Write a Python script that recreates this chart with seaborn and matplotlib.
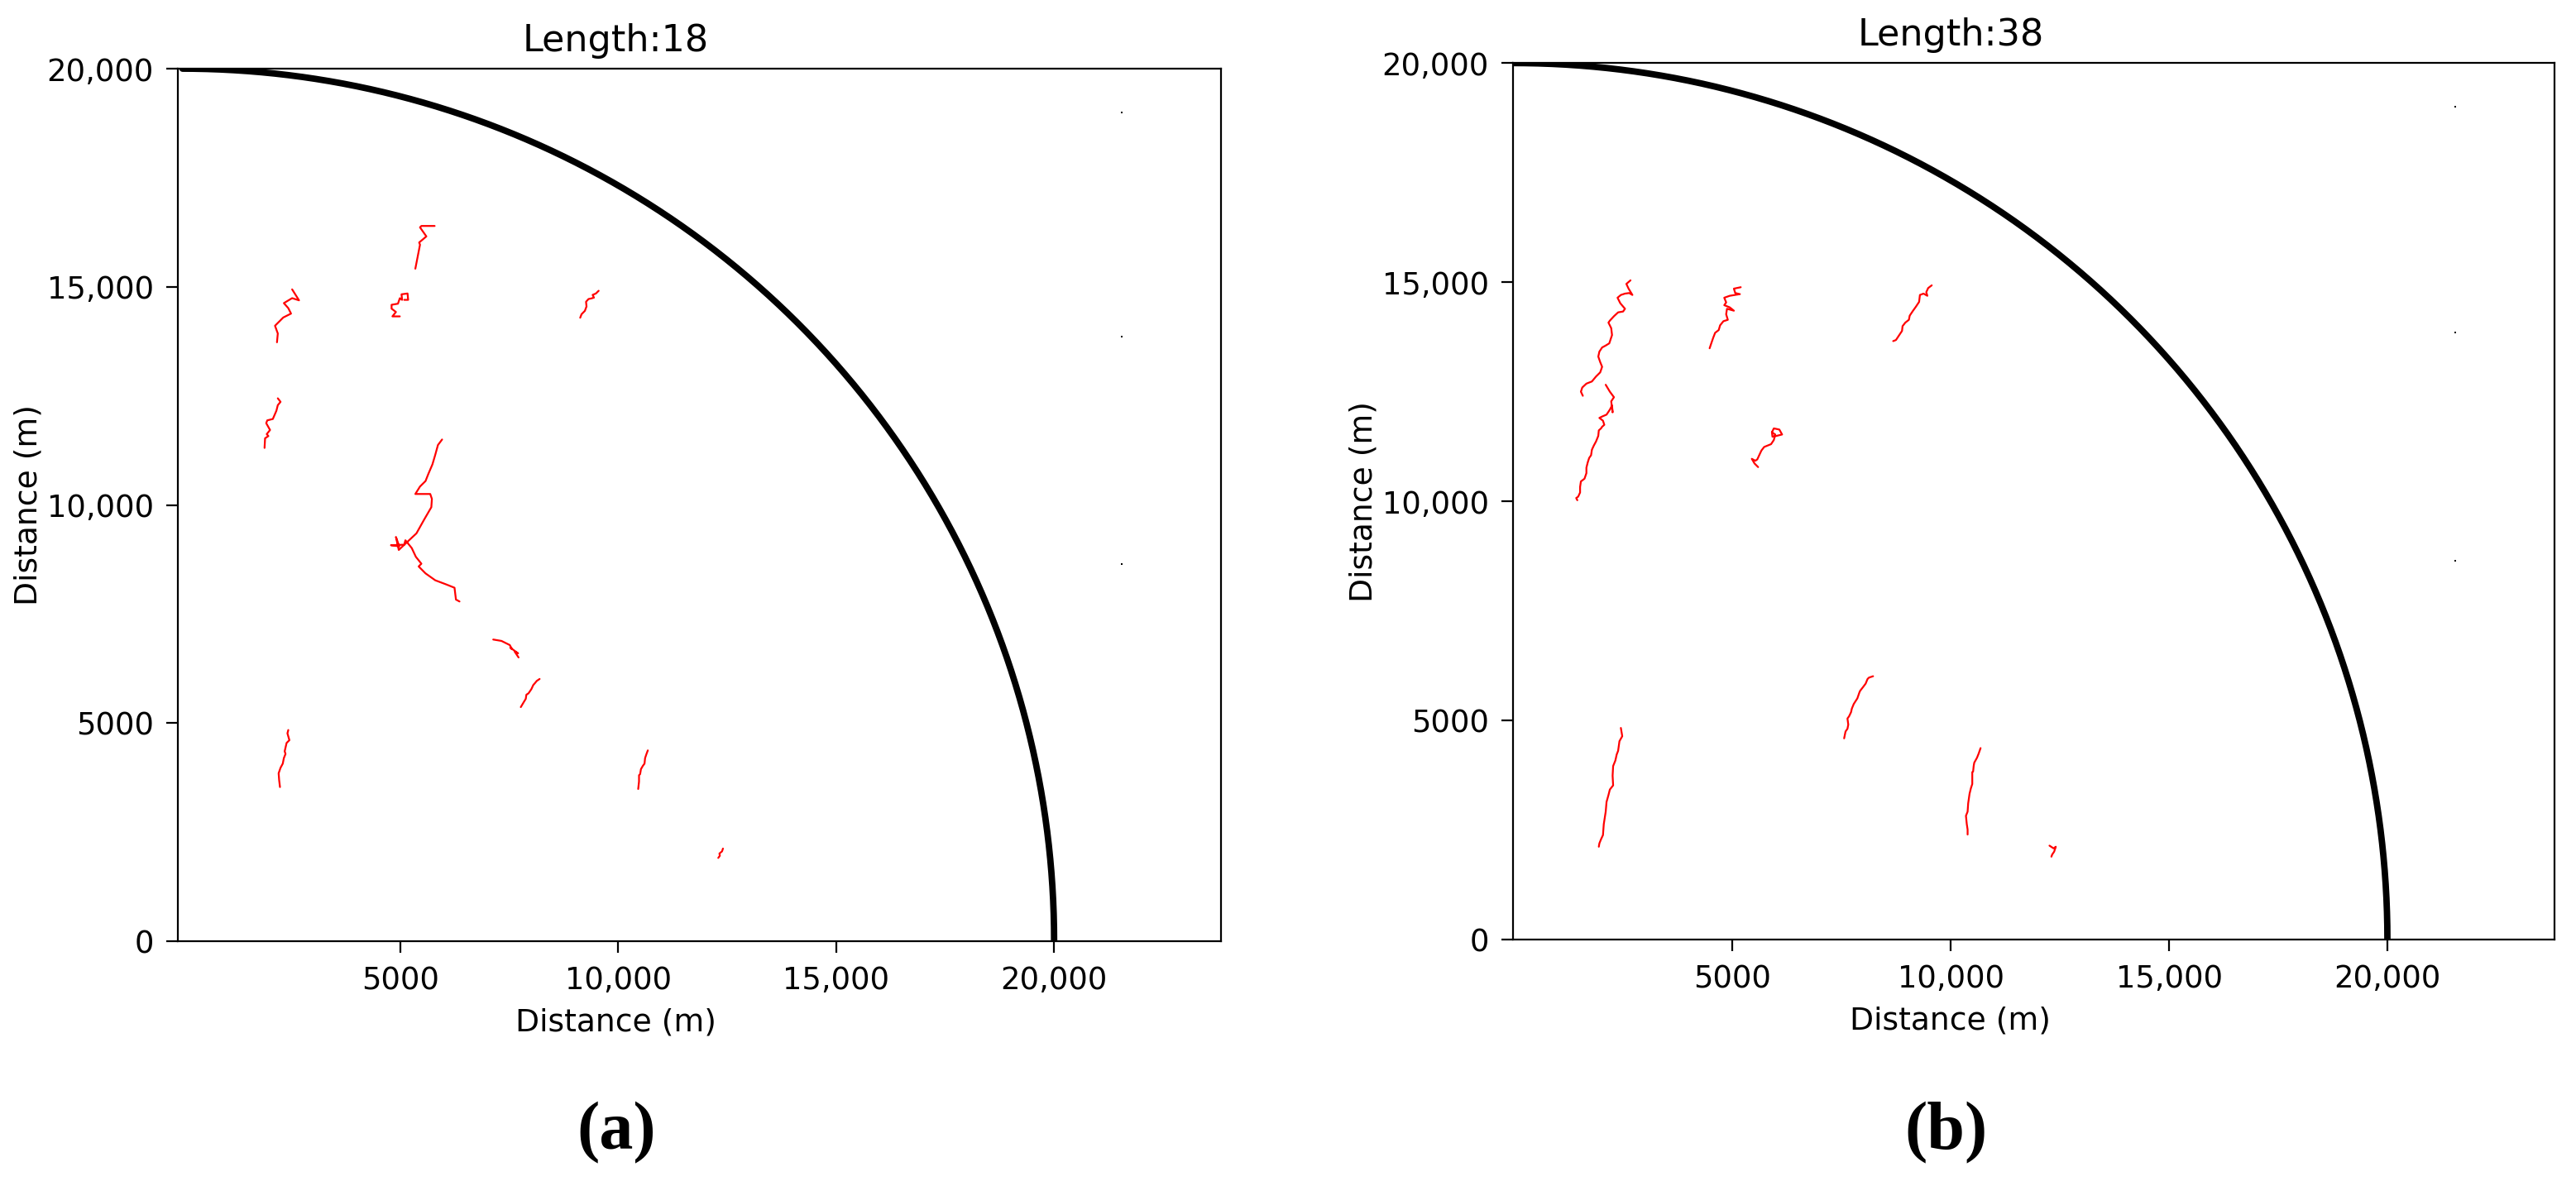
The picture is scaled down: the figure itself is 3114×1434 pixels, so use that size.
import numpy as np
import pandas as pd
import matplotlib.pyplot as plt
from matplotlib.ticker import FuncFormatter
import seaborn as sns

sns.set_style("ticks", {"axes.edgecolor": "black", "xtick.color": "black",
                        "ytick.color": "black", "axes.linewidth": 0.8,
                        "text.color": "black", "axes.labelcolor": "black"})
plt.rcParams["font.family"] = ["DejaVu Sans"]

# coverage boundary (radius in m) and the three small sensor marks
radius = 20000
mark_x = [21560, 21560, 21560]
mark_y = [19000, 13850, 8650]

# ---- panel (a): Length:18 ----
a1_x = [2167, 2186, 2122, 2312, 2490, 2426, 2325, 2515, 2673, 2515]
a1_y = [13728, 13930, 14107, 14297, 14386, 14512, 14626, 14740, 14690, 14941]
a2_x = [5342, 5449, 5430, 5595, 5449, 5481, 5785]
a2_y = [15415, 15965, 16016, 16155, 16363, 16395, 16395]
a3_x = [4986, 4816, 4897, 4797, 4797, 4943, 4986, 5038, 5025, 5163, 5177, 5087]
a3_y = [14322, 14322, 14423, 14499, 14588, 14613, 14738, 14701, 14828, 14847, 14701, 14701]
a4_x = [1882, 1894, 1970, 1932, 2008, 1920, 1945, 2072, 2154, 2186, 2249, 2186]
a4_y = [11307, 11528, 11579, 11623, 11718, 11875, 11939, 11970, 12160, 12287, 12363, 12444]
a5_x = [5956, 5861, 5799, 5734, 5639, 5576, 5449, 5342, 5684, 5722, 5709, 5544, 5367, 5163, 4962,
        4897, 4973, 4783, 5087, 5114, 5259, 5354, 5481, 5418, 5576, 5799, 6051, 6241, 6274, 6356]
a5_y = [11500, 11374, 11149, 10929, 10707, 10548, 10422, 10251, 10251, 10138, 9948, 9664, 9348, 9158, 8968,
        9266, 9051, 9077, 9089, 9190, 9013, 8811, 8653, 8590, 8431, 8273, 8178, 8102, 7831, 7787]
a6_x = [7129, 7319, 7510, 7559, 7520, 7700, 7620, 7711]
a6_y = [6915, 6883, 6788, 6693, 6730, 6598, 6640, 6504]
a7_x = [8194, 8129, 8092, 8048, 8004, 7939, 7890, 7876, 7826, 7762]
a7_y = [6011, 5967, 5922, 5872, 5777, 5682, 5650, 5556, 5474, 5366]
a8_x = [2427, 2407, 2452, 2388, 2344, 2363, 2325, 2300, 2249, 2205, 2217, 2236]
a8_y = [4841, 4765, 4608, 4545, 4355, 4292, 4197, 4071, 3976, 3849, 3692, 3533]
a9_x = [10677, 10646, 10614, 10601, 10563, 10519, 10500, 10475, 10475, 10456]
a9_y = [4374, 4292, 4197, 4071, 4020, 3944, 3830, 3805, 3660, 3489]
a10_x = [9125, 9156, 9232, 9270, 9259, 9316, 9378, 9441, 9410, 9486, 9549]
a10_y = [14291, 14372, 14448, 14549, 14657, 14720, 14733, 14752, 14815, 14847, 14909]
a11_x = [12293, 12330, 12320, 12380, 12401]
a11_y = [1909, 1960, 2010, 2060, 2124]

# ---- panel (b): Length:38 ----
b1_x = [2664, 2569, 2620, 2708, 2633, 2538, 2443, 2367, 2430, 2538, 2494, 2380, 2285, 2191, 2159, 2222,
        2241, 2203, 2178, 2096, 2014, 1951, 1926, 1970, 2014, 1970, 1875, 1780, 1654, 1559, 1528, 1572]
b1_y = [15043, 14961, 14853, 14709, 14753, 14740, 14709, 14646, 14520, 14394, 14331, 14312, 14224, 14123,
        14078, 13952, 13794, 13681, 13605, 13555, 13511, 13416, 13303, 13177, 13070, 12943, 12849, 12735,
        12686, 12597, 12502, 12408]
b2_x = [2096, 2191, 2285, 2222, 2254, 2241, 2191, 2115, 2014, 1951, 2033, 2064, 2014, 1989, 1938, 1926,
        1875, 1824, 1780, 1761, 1717, 1686, 1654, 1654, 1610, 1528, 1509, 1509, 1465, 1420, 1446]
b2_y = [12660, 12502, 12376, 12281, 12030, 12187, 12092, 11978, 11935, 11903, 11840, 11746, 11702, 11664,
        11619, 11494, 11367, 11273, 11178, 11052, 10989, 10894, 10768, 10643, 10516, 10454, 10327, 10201,
        10106, 10075, 10025]
b3_x = [5189, 5032, 5063, 5170, 4937, 4811, 4855, 4811, 4937, 5032, 4874, 4855, 4893, 4792, 4716, 4684,
        4602, 4558, 4514, 4476]
b3_y = [14886, 14853, 14753, 14728, 14690, 14646, 14539, 14476, 14426, 14350, 14394, 14268, 14142, 14110,
        14016, 13908, 13845, 13732, 13605, 13492]
b4_x = [5587, 5505, 5442, 5524, 5568, 5612, 5663, 5726, 5884, 5947, 5979, 5903, 5947, 6073, 6136, 6010,
        5915, 5903]
b4_y = [10781, 10863, 10970, 10926, 10957, 11052, 11160, 11241, 11305, 11400, 11525, 11576, 11664, 11638,
        11525, 11494, 11475, 11576]
b5_x = [9564, 9482, 9438, 9463, 9375, 9293, 9274, 9198, 9135, 9059, 9040, 8958, 8895, 8883, 8820, 8744, 8680]
b5_y = [14929, 14867, 14772, 14690, 14740, 14709, 14551, 14437, 14350, 14237, 14142, 14078, 13997, 13889,
        13795, 13681, 13656]
b6_x = [2443, 2475, 2411, 2380, 2348, 2317, 2266, 2254, 2266, 2191, 2159, 2115, 2096, 2052, 2033, 1989,
        1951, 1938]
b6_y = [4829, 4640, 4527, 4306, 4224, 4085, 3959, 3739, 3518, 3423, 3297, 3140, 2919, 2635, 2383, 2289,
        2194, 2118]
b7_x = [8220, 8125, 8093, 8049, 7986, 7922, 7904, 7860, 7778, 7734, 7715, 7670, 7633, 7652, 7633, 7589, 7557]
b7_y = [6009, 5977, 5945, 5839, 5756, 5674, 5631, 5504, 5377, 5271, 5188, 5094, 5044, 4905, 4810, 4747, 4591]
b8_x = [10682, 10638, 10600, 10537, 10524, 10511, 10492, 10492, 10461, 10430, 10398, 10385, 10347, 10366,
        10385, 10385]
b8_y = [4369, 4243, 4149, 4035, 3959, 3834, 3821, 3550, 3455, 3329, 3108, 2919, 2824, 2635, 2510, 2396]
b9_x = [12260, 12354, 12405, 12367, 12323, 12304]
b9_y = [2143, 2081, 2118, 2005, 1942, 1891]

tracks_a = [(a1_x, a1_y), (a2_x, a2_y), (a3_x, a3_y), (a4_x, a4_y), (a5_x, a5_y), (a6_x, a6_y),
            (a7_x, a7_y), (a8_x, a8_y), (a9_x, a9_y), (a10_x, a10_y), (a11_x, a11_y)]
tracks_b = [(b1_x, b1_y), (b2_x, b2_y), (b3_x, b3_y), (b4_x, b4_y), (b5_x, b5_y), (b6_x, b6_y),
            (b7_x, b7_y), (b8_x, b8_y), (b9_x, b9_y)]


def to_frame(tracks):
    parts = []
    for i, (tx, ty) in enumerate(tracks):
        parts.append(pd.DataFrame({"x": tx, "y": ty, "track": i}))
    return pd.concat(parts, ignore_index=True)


def fmt(v, pos):
    return f"{v:,.0f}" if v >= 10000 else f"{v:.0f}"


theta = np.linspace(0, np.pi / 2, 400)
arc = pd.DataFrame({"x": radius * np.cos(theta), "y": radius * np.sin(theta)})
marks = pd.DataFrame({"x": mark_x, "y": mark_y})

fig = plt.figure(figsize=(15.57, 7.17), dpi=200)
ax_a = fig.add_axes([0.0690, 0.2064, 0.4050, 0.7357])
ax_b = fig.add_axes([0.5873, 0.2078, 0.4044, 0.7390])

for ax, tracks, title, xmin in [(ax_a, tracks_a, "Length:18", -110),
                                (ax_b, tracks_b, "Length:38", -30)]:
    sns.lineplot(data=arc, x="x", y="y", sort=False, color="black", lw=2.8, ax=ax)
    sns.lineplot(data=to_frame(tracks), x="x", y="y", units="track", estimator=None,
                 sort=False, color="red", lw=0.8, ax=ax)
    sns.scatterplot(data=marks, x="x", y="y", marker="s", s=0.6, color="black",
                    linewidth=0, ax=ax)
    ax.set_xlim(xmin, 23830)
    ax.set_ylim(0, 20000)
    ax.set_xticks([5000, 10000, 15000, 20000])
    ax.set_yticks([0, 5000, 10000, 15000, 20000])
    ax.xaxis.set_major_formatter(FuncFormatter(fmt))
    ax.yaxis.set_major_formatter(FuncFormatter(fmt))
    ax.tick_params(labelsize=13.3, length=5, width=0.8, pad=5.5, labelcolor="black")
    ax.set_xlabel("Distance (m)", fontsize=13.6, color="black")
    ax.xaxis.set_label_coords(0.42, -0.076)
    ax.set_ylabel("Distance (m)", fontsize=13.6, labelpad=1.5, color="black")
    ax.set_title(title, fontsize=16, pad=7.5, x=0.42, color="black")

fig.text(0.2392, 0.045, "(a)", ha="center", va="center", fontsize=29.5,
         fontweight="bold", family="Liberation Serif", color="black")
fig.text(0.7556, 0.045, "(b)", ha="center", va="center", fontsize=29.5,
         fontweight="bold", family="Liberation Serif", color="black")

fig.savefig("out.png", dpi=200, facecolor="white")
